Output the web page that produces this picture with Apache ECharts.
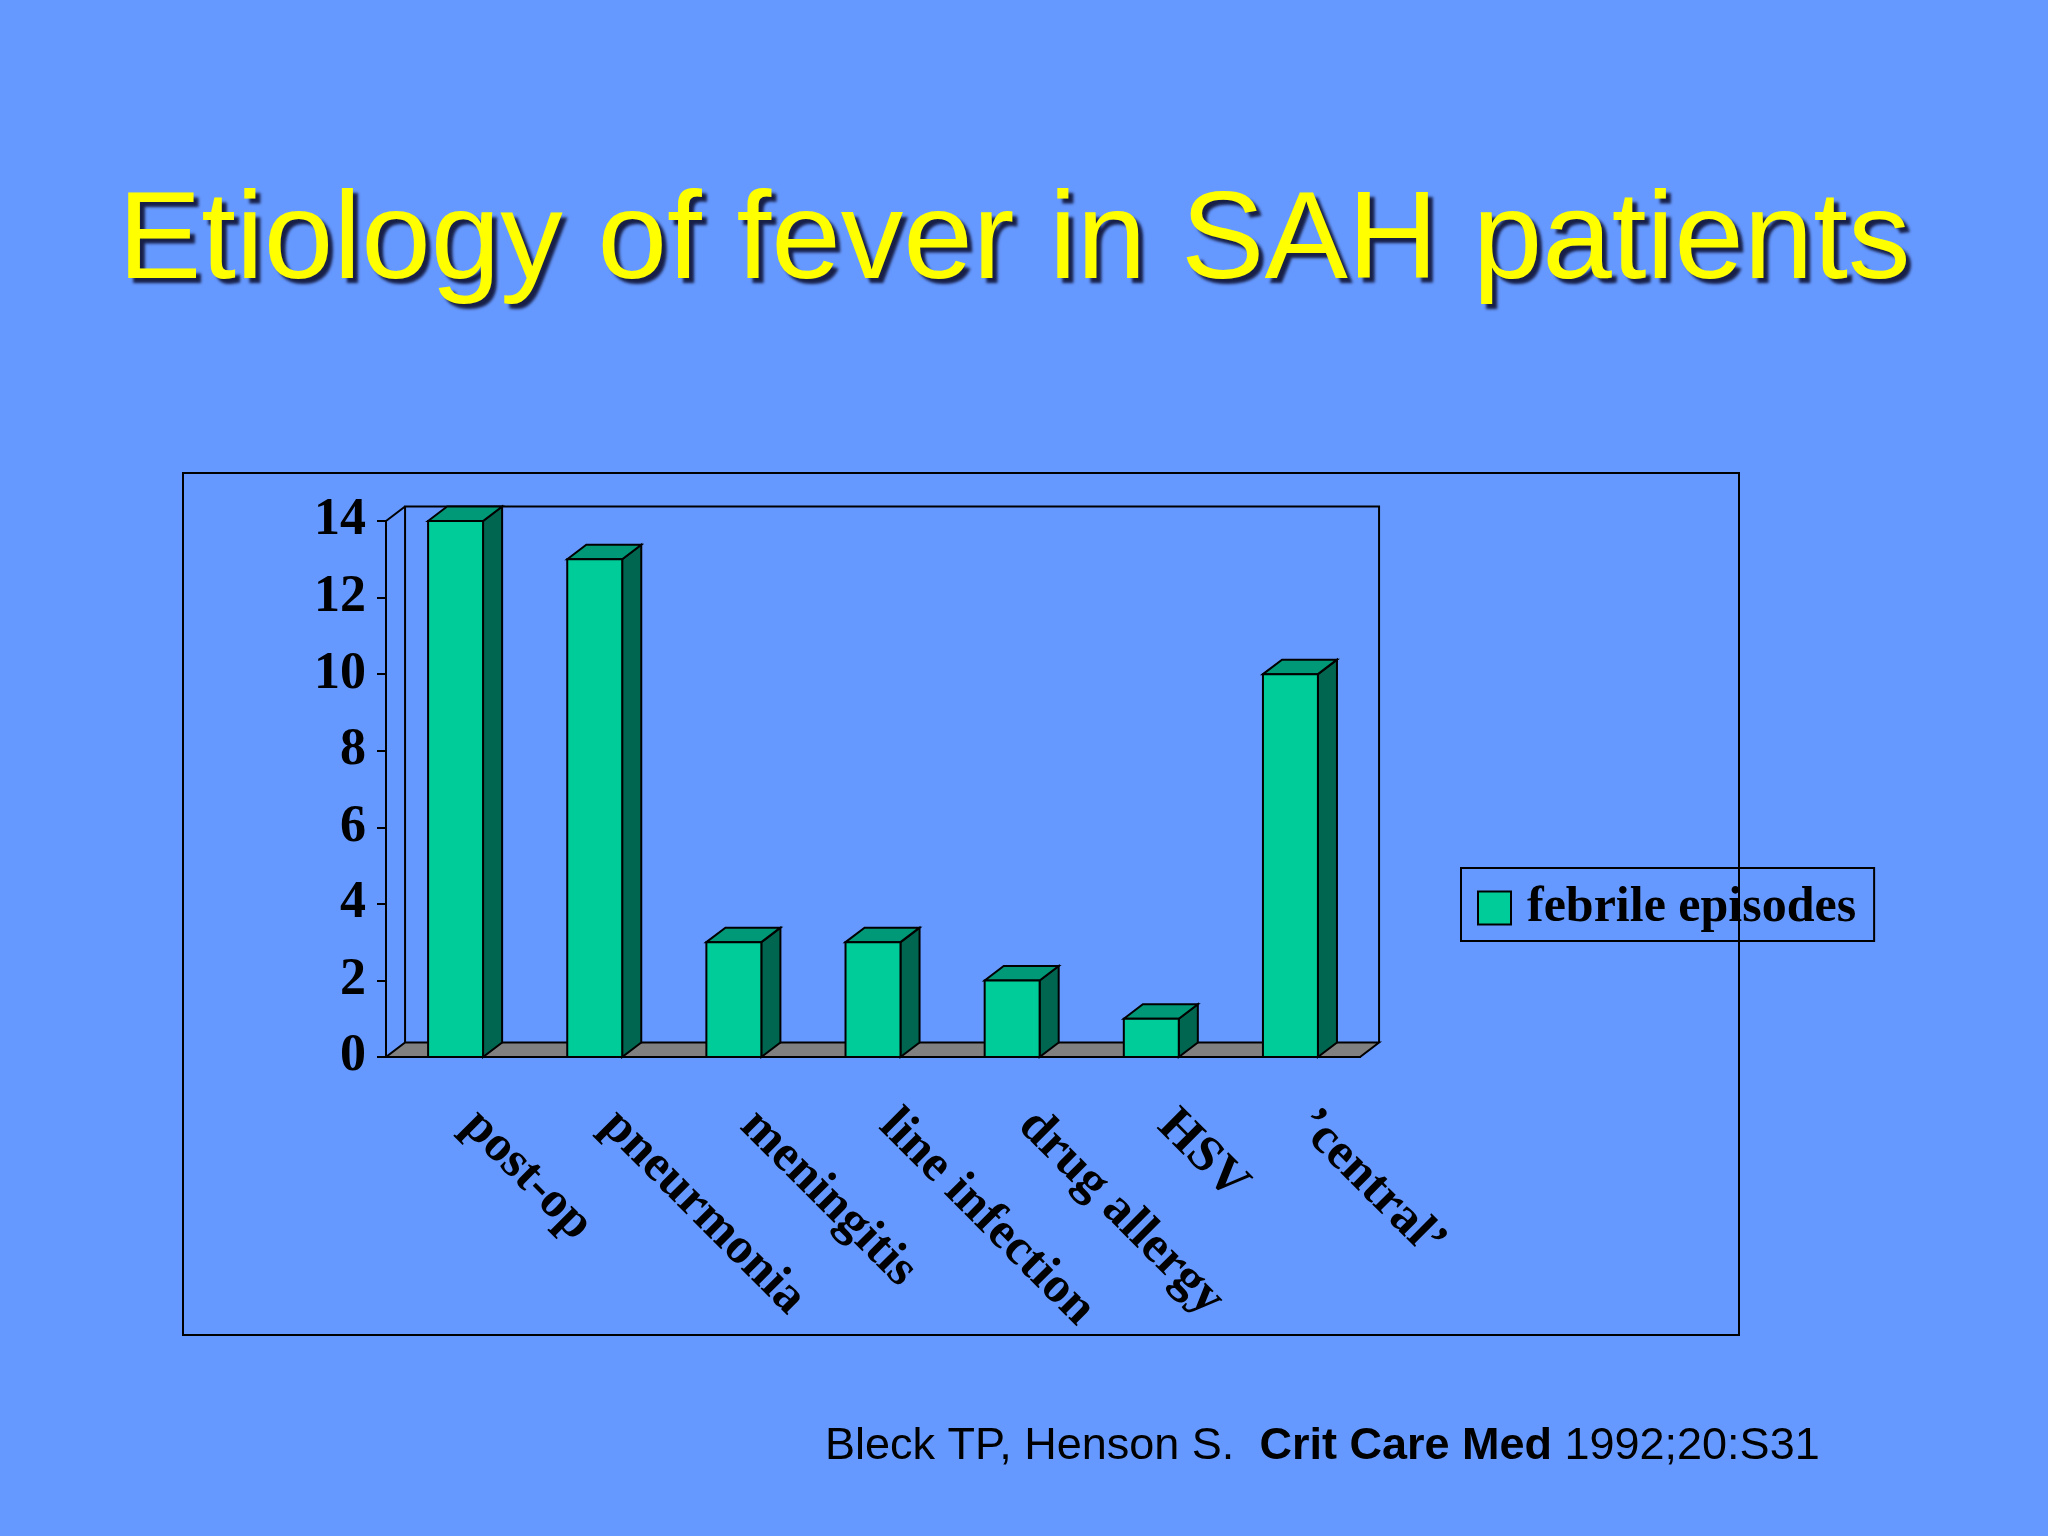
<!DOCTYPE html>
<html>
<head>
<meta charset="utf-8">
<script src="https://cdn.jsdelivr.net/npm/echarts@6/dist/echarts.min.js"></script>
<style>
  html, body { margin: 0; padding: 0; background: #6699ff; }
  #chart { width: 2048px; height: 1536px; }
</style>
</head>
<body>
<div id="chart"></div>
<script>
const categories = ['post-op', 'pneurmonia', 'meningitis', 'line infection', 'drug allergy', 'HSV', '\u2019central\u2019'];
const febrileEpisodes = [14, 13, 3, 3, 2, 1, 10];
const yMin = 0;
const yMax = 14;
const yInterval = 2;
const seriesName = 'febrile episodes';

const serif = '"Liberation Serif", "Times New Roman", serif';
const sans = '"Liberation Sans", Arial, sans-serif';

// 3d look: depth as a share of the category band, and its slope
const DEPTH = 0.137;
const SLOPE = 0.76;
const BAR_SHARE = 0.395;

const chart = echarts.init(document.getElementById('chart'));

function renderWall(params, api) {
  const n = categories.length;
  const band = api.size([1, 0])[0];
  const p0 = api.coord([0, yMin]);
  const pn = api.coord([n - 1, yMin]);
  const pTop = api.coord([0, yMax]);
  const xl = p0[0] - band / 2;
  const xr = pn[0] + band / 2;
  const yb = p0[1];
  const yt = pTop[1];
  const dx = band * DEPTH;
  const dy = dx * SLOPE;
  const line = { stroke: '#000', lineWidth: 2, fill: null };
  return {
    type: 'group',
    children: [
      {
        type: 'polygon',
        shape: { points: [[xl, yb], [xr, yb], [xr + dx, yb - dy], [xl + dx, yb - dy]] },
        style: { fill: '#808080', stroke: '#000', lineWidth: 2 }
      },
      {
        type: 'polyline',
        shape: { points: [[xl + dx, yb - dy], [xl + dx, yt - dy], [xr + dx, yt - dy], [xr + dx, yb - dy]] },
        style: line
      },
      {
        type: 'line',
        shape: { x1: xl, y1: yt, x2: xl + dx, y2: yt - dy },
        style: line
      }
    ]
  };
}

function renderBar(params, api) {
  const idx = api.value(0);
  const val = api.value(1);
  const base = api.coord([idx, yMin]);
  const top = api.coord([idx, val]);
  const band = api.size([1, 0])[0];
  const w = band * BAR_SHARE;
  const dx = band * DEPTH;
  const dy = dx * SLOPE;
  const x0 = base[0] - w / 2;
  const x1 = base[0] + w / 2;
  const yb = base[1];
  const yt = top[1];
  const edge = { stroke: '#000', lineWidth: 2 };
  return {
    type: 'group',
    children: [
      {
        type: 'polygon',
        shape: { points: [[x1, yt], [x1 + dx, yt - dy], [x1 + dx, yb - dy], [x1, yb]] },
        style: Object.assign({ fill: '#006650' }, edge)
      },
      {
        type: 'polygon',
        shape: { points: [[x0, yt], [x0 + dx, yt - dy], [x1 + dx, yt - dy], [x1, yt]] },
        style: Object.assign({ fill: '#009977' }, edge)
      },
      {
        type: 'rect',
        shape: { x: x0, y: yt, width: w, height: yb - yt },
        style: Object.assign({ fill: '#00cc99' }, edge)
      }
    ]
  };
}

const option = {
  backgroundColor: '#6699ff',
  animation: false,
  title: [
    {
      text: 'Etiology of fever in SAH patients',
      left: 113,
      top: 176,
      textStyle: {
        color: '#ffff00',
        fontFamily: sans,
        fontWeight: 'normal',
        fontSize: 125,
        textShadowColor: 'rgba(10, 10, 40, 0.85)',
        textShadowBlur: 3,
        textShadowOffsetX: 5,
        textShadowOffsetY: 5
      }
    },
    {
      text: '{n|Bleck TP, Henson S.  }{b|Crit Care Med}{n| 1992;20:S31}',
      left: 820,
      top: 1419,
      textStyle: {
        rich: {
          n: { fontFamily: sans, fontSize: 45, color: '#000', fontWeight: 'normal' },
          b: { fontFamily: sans, fontSize: 45, color: '#000', fontWeight: 'bold' }
        }
      }
    }
  ],
  legend: {
    data: [seriesName],
    left: 1461,
    top: 868,
    orient: 'vertical',
    borderColor: '#000',
    borderWidth: 2,
    padding: [7, 18, 0, 16],
    itemWidth: 33,
    itemHeight: 33,
    icon: 'rect',
    itemStyle: { color: '#00cc99', borderColor: '#000', borderWidth: 2 },
    textStyle: {
      color: '#000',
      fontFamily: serif,
      fontWeight: 'bold',
      fontSize: 50,
      lineHeight: 50,
      padding: [16, 0, 0, 11]
    }
  },
  grid: {
    left: 386,
    right: 688,
    top: 521,
    bottom: 479
  },
  xAxis: {
    type: 'category',
    data: categories,
    axisLine: { lineStyle: { color: '#000', width: 2 } },
    axisTick: { length: 10, lineStyle: { color: '#000', width: 2 } },
    axisLabel: {
      rotate: -45,
      margin: 47,
      padding: [0, 0, 0, 20],
      color: '#000',
      fontFamily: serif,
      fontWeight: 'bold',
      fontSize: 51,
      interval: 0
    },
    splitLine: { show: false }
  },
  yAxis: {
    type: 'value',
    min: yMin,
    max: yMax,
    interval: yInterval,
    axisLine: { show: true, lineStyle: { color: '#000', width: 2 } },
    axisTick: { show: true, length: 9, lineStyle: { color: '#000', width: 2 } },
    axisLabel: {
      margin: 20,
      color: '#000',
      fontFamily: serif,
      fontWeight: 'bold',
      fontSize: 52
    },
    splitLine: { show: false }
  },
  graphic: [
    {
      type: 'rect',
      shape: { x: 183, y: 473, width: 1556, height: 862 },
      style: { fill: null, stroke: '#000', lineWidth: 2 },
      z: 10,
      silent: true
    }
  ],
  series: [
    {
      name: 'wall',
      type: 'custom',
      renderItem: renderWall,
      data: [[0, yMin]],
      silent: true,
      z: 1
    },
    {
      name: seriesName,
      type: 'custom',
      renderItem: renderBar,
      itemStyle: { color: '#00cc99' },
      data: febrileEpisodes.map((v, i) => [i, v]),
      z: 2
    }
  ]
};

chart.setOption(option);
</script>
</body>
</html>
